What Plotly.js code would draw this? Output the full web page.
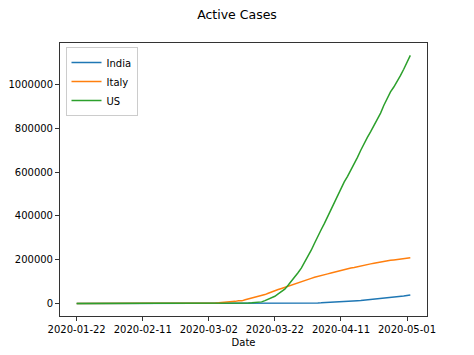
<!DOCTYPE html>
<html><head><meta charset="utf-8">
<script src="https://cdn.plot.ly/plotly-3.0.1.min.js"></script>
<style>html,body{margin:0;padding:0;background:#fff}#chart{width:474px;height:355px}</style>
</head><body><div id="chart"></div>
<script>
const startDate = '2020-01-22';
const numDays = 102;
const india = [0,0,0,0,0,0,0,0,1,1,
 1,2,3,3,3,3,3,3,3,3,3,3,3,3,3,3,3,3,3,3,3,3,3,3,3,3,3,3,3,
 3,5,5,28,30,31,34,39,43,56,62,73,82,102,113,119,142,156,194,244,330,396,499,536,657,727,887,987,1024,1251,1397,
 1998,2543,2567,3082,3588,4778,5311,5916,6725,7598,8446,9205,10453,11487,12322,13430,14352,15722,17615,18539,20080,21370,23077,24530,26283,27890,29451,31324,33062,34863,
 37257,39699];
const italy = [0,0,0,0,0,0,0,0,0,2,
 2,2,2,2,2,2,3,3,3,3,3,3,3,3,3,3,3,3,3,3,20,62,155,229,322,453,655,888,1128,
 1694,2036,2502,3089,3858,4636,5883,7375,9172,10149,12462,12462,17660,21157,24747,27980,31506,35713,41035,47021,53578,59138,63927,69176,74386,80589,86498,92472,97689,101739,105792,
 110574,115242,119827,124632,128948,132547,135586,139422,143626,147577,152271,156363,159516,162488,165155,168941,172434,175925,178972,181228,183957,187327,189973,192994,195351,197675,199414,201505,203591,205463,
 207428,209328];
const us = [1,1,2,2,5,5,5,6,6,8,
 8,8,11,11,11,12,12,12,12,12,13,13,14,14,14,14,14,14,14,14,16,16,16,16,16,16,17,25,32,
 74,98,118,149,217,262,402,518,583,959,1281,1663,2179,2727,3499,4632,6421,7786,13680,19101,25493,33276,43847,53740,65778,83836,101657,121465,140909,161831,188172,
 213242,243622,275367,308650,336802,366317,397121,428654,462780,496535,526396,555313,580619,607670,636350,667592,699706,732197,758809,784326,811865,840351,869170,905358,938154,965785,988197,1012582,1039909,1069424,
 1103461,1132539];
const seriesNames = ['India','Italy','US'];
const seriesColors = ['#1f77b4','#ff7f0e','#2ca02c'];

const dates = [];
const d0 = new Date(startDate + 'T00:00:00Z');
for (let i = 0; i < numDays; i++) {
  const d = new Date(d0.getTime() + i * 86400000);
  dates.push(d.toISOString().slice(0,10));
}
const tickDates = dates.filter((_, i) => i % 20 === 0);

const allY = [india, italy, us];
const traces = allY.map((y, k) => ({
  x: dates, y: y, type: 'scatter', mode: 'lines', name: seriesNames[k],
  line: {color: seriesColors[k], width: 1.5}
}));

const ms = 86400000;
const span = (numDays - 1) * ms;
const t0 = d0.getTime();
const maxY = Math.max(...us);
const layout = {
  width: 474, height: 355,
  margin: {l: 60, r: 47, t: 43, b: 39},
  paper_bgcolor: '#fff', plot_bgcolor: '#fff',
  font: {family: 'DejaVu Sans, sans-serif', size: 10, color: '#000'},
  title: {text: 'Active Cases', font: {size: 12.5}, x: 0.5, xref: 'container', y: 0.96, yref: 'container', xanchor: 'center', yanchor: 'middle'},
  xaxis: {
    type: 'date',
    range: [new Date(t0 - 0.05 * span).toISOString(), new Date(t0 + 1.05 * span).toISOString()],
    tickmode: 'array', tickvals: tickDates, ticktext: tickDates,
    showgrid: false, zeroline: false, showline: true, mirror: true, linecolor: '#333', linewidth: 1,
    ticks: 'outside', ticklen: 4, tickcolor: '#333',
    title: {text: 'Date', font: {size: 10}, standoff: 4}
  },
  yaxis: {
    range: [-0.05 * maxY, 1.05 * maxY],
    tickmode: 'linear', tick0: 0, dtick: 200000, tickformat: 'd',
    showgrid: false, zeroline: false, showline: true, mirror: true, linecolor: '#333', linewidth: 1,
    ticks: 'outside', ticklen: 4, tickcolor: '#333'
  },
  legend: {x: 0.015, y: 0.985, xanchor: 'left', yanchor: 'top', bgcolor: 'rgba(255,255,255,0.8)',
    bordercolor: '#ccc', borderwidth: 1, font: {size: 10}, tracegroupgap: 0, itemwidth: 30},
  showlegend: true
};
Plotly.newPlot('chart', traces, layout, {displayModeBar: false, staticPlot: true});
</script>
</body></html>
